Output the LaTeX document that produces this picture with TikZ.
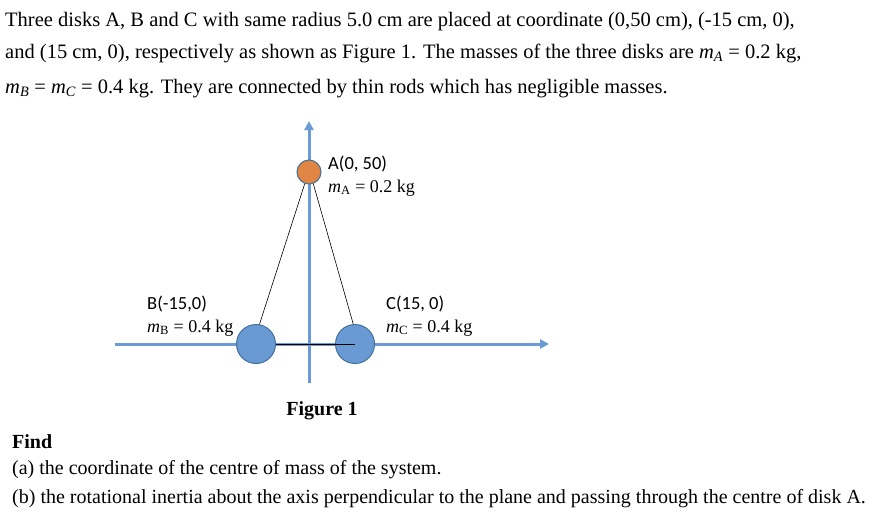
\documentclass[tikz,border=0pt]{standalone}
\usepackage{fontspec}
\setmainfont{Liberation Serif}
\newfontfamily\lblfont{Carlito}
\usetikzlibrary{arrows.meta}
\definecolor{axisblue}{HTML}{6A9BD6}
\definecolor{diskblue}{HTML}{6A9AD4}
\definecolor{diskedge}{HTML}{41719C}
\definecolor{diskorange}{HTML}{E08543}
\begin{document}
\begin{tikzpicture}[x=1pt,y=-1pt,
  txt/.style={anchor=base west,inner sep=0pt,font=\fontsize{20.5}{24}\selectfont},
  qtxt/.style={anchor=base west,inner sep=0pt,font=\fontsize{20}{24}\selectfont},
  lbl/.style={anchor=base west,inner sep=0pt,font=\lblfont\fontsize{18.5}{22}\selectfont},
  mlbl/.style={anchor=base west,inner sep=0pt,font=\fontsize{18}{22}\selectfont},
  disk/.style={circle,draw=diskedge,line width=1pt,inner sep=0pt},
  axis/.style={axisblue,line width=3pt,-{Triangle[length=9pt,width=9pt]}},
  rod/.style={black,line width=0.6pt}]
\useasboundingbox (0,0) rectangle (875,512);
\node[txt] (t1) at (5,26) {Three disks A, B and C with same radius 5.0 cm are placed at coordinate (0,50 cm), (-15 cm, 0),};
\node[txt] (t2) at (5,58) {and (15 cm, 0), respectively as shown as Figure 1. The masses of the three disks are \textit{m\textsubscript{A}} = 0.2 kg,};
\node[txt] (t3) at (5,93) {\textit{m\textsubscript{B}} = \textit{m\textsubscript{C}} = 0.4 kg. They are connected by thin rods which has negligible masses.};
\coordinate (vb) at (309,383);
\coordinate (vt) at (309,121);
\coordinate (hl) at (115,344);
\coordinate (hr) at (549,344);
\draw[axis] (vb) -- (vt);
\draw[axis] (hl) -- (hr);
\node[disk,fill=diskorange,minimum size=24pt] (A) at (309,172) {};
\node[disk,fill=diskblue,minimum size=39pt] (B) at (256,344) {};
\node[disk,fill=diskblue,minimum size=39pt] (C) at (355,344) {};
\draw[rod] (A.250) -- (B.80);
\draw[rod] (A.290) -- (C.95);
\draw[rod,line width=1pt] (B.east) -- (C.center);
\node[lbl] (la1) at (328,169) {A(0, 50)};
\node[mlbl] (la2) at (328,192) {\textit{m}\textsubscript{A} = 0.2 kg};
\node[lbl] (lb1) at (147,309) {B(-15,0)};
\node[mlbl] (lb2) at (147,332) {\textit{m}\textsubscript{B} = 0.4 kg};
\node[lbl] (lc1) at (386,309) {C(15, 0)};
\node[mlbl] (lc2) at (386,332) {\textit{m}\textsubscript{C} = 0.4 kg};
\node[txt,anchor=base,font=\bfseries\fontsize{20}{24}\selectfont] (fig) at (322,415) {Figure 1};
\node[qtxt,font=\bfseries\fontsize{20}{24}\selectfont] (find) at (12,448) {Find};
\node[qtxt] (qa) at (12,474) {(a) the coordinate of the centre of mass of the system.};
\node[qtxt] (qb) at (12,503) {(b) the rotational inertia about the axis perpendicular to the plane and passing through the centre of disk A.};
\end{tikzpicture}
\end{document}
